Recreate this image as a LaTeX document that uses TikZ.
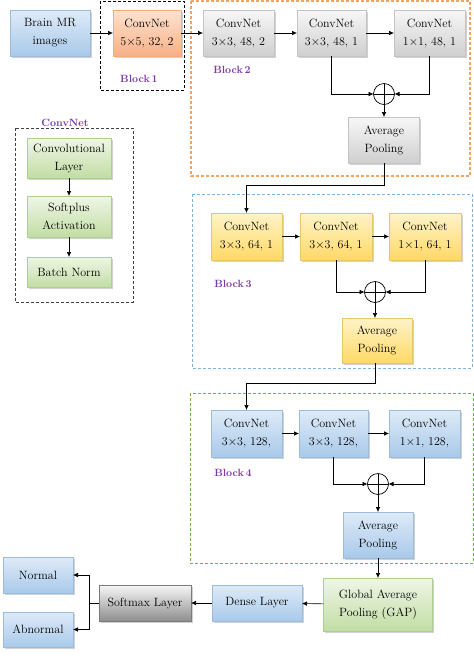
\documentclass[tikz,border=0pt]{standalone}
\usetikzlibrary{shadows,arrows.meta,calc}
\definecolor{bluetop}{HTML}{DEEBF8}
\definecolor{bluebot}{HTML}{A9C9EA}
\definecolor{blueedge}{HTML}{9DBBDB}
\definecolor{orgtop}{HTML}{FDE3D0}
\definecolor{orgbot}{HTML}{F7B088}
\definecolor{orgedge}{HTML}{F2AC80}
\definecolor{graytop}{HTML}{F7F7F7}
\definecolor{graybot}{HTML}{CFCFCF}
\definecolor{grayedge}{HTML}{C4C4C4}
\definecolor{dgraybot}{HTML}{8E8E8E}
\definecolor{dgrayedge}{HTML}{7A7A7A}
\definecolor{yeltop}{HTML}{FFF4C8}
\definecolor{yelbot}{HTML}{FFD966}
\definecolor{yeledge}{HTML}{E8C868}
\definecolor{grntop}{HTML}{EFF6E6}
\definecolor{grnbot}{HTML}{C2DDA4}
\definecolor{grnedge}{HTML}{ADD092}
\definecolor{purp}{HTML}{7B3AA6}
\definecolor{frameorg}{HTML}{F4A460}
\definecolor{frameblue}{HTML}{7FB5DC}
\definecolor{framegrn}{HTML}{6DB050}
\begin{document}
\begin{tikzpicture}[x=1pt,y=-1pt,
  font=\fontsize{12}{18}\selectfont,
  box/.style={draw, rectangle, align=center, inner sep=1pt, outer sep=0pt,
    drop shadow={shadow xshift=1.5pt, shadow yshift=-1.5pt, opacity=0.3, fill=black!60}},
  bluebox/.style={box, top color=bluetop, bottom color=bluebot, draw=blueedge},
  orgbox/.style={box, top color=orgtop, bottom color=orgbot, draw=orgedge},
  graybox/.style={box, top color=graytop, bottom color=graybot, draw=grayedge},
  dgraybox/.style={box, top color=graytop, bottom color=dgraybot, draw=dgrayedge},
  yelbox/.style={box, top color=yeltop, bottom color=yelbot, draw=yeledge},
  grnbox/.style={box, top color=grntop, bottom color=grnbot, draw=grnedge},
  sz/.style 2 args={minimum width=#1, minimum height=#2},
  plus/.style={draw, circle, minimum size=21pt, inner sep=0pt, outer sep=0pt, line width=0.7pt,
    path picture={\draw[line width=0.7pt] (path picture bounding box.north) -- (path picture bounding box.south)
      (path picture bounding box.west) -- (path picture bounding box.east);}},
  arr/.style={draw, line width=0.6pt, -{Latex[length=5pt,width=4.5pt]}},
  ln/.style={draw, line width=0.6pt},
  blabel/.style={font=\fontsize{10.5}{12}\selectfont\bfseries, text=purp},
  frame/.style={dashed, line width=1pt}
]
\useasboundingbox (0,0) rectangle (474,665);

% frames
\draw[frame, draw=black, dash pattern=on 3pt off 2pt] (100,1) rectangle (184,90);
\draw[frame, draw=frameorg, line width=1.4pt, dash pattern=on 3pt off 2pt] (191,1) rectangle (470,176);
\draw[frame, draw=frameblue, dash pattern=on 3pt off 2pt] (192,194) rectangle (472,368);
\draw[frame, draw=framegrn, dash pattern=on 3pt off 2pt] (190,393) rectangle (473,563);
\draw[frame, draw=black!75, dash pattern=on 3pt off 2pt] (15,128) rectangle (133,302);

% input and block 1
\node[bluebox, sz={80pt}{46pt}] (brain) at (50,33) {Brain MR\\images};
\node[orgbox, sz={68pt}{46pt}] (b1) at (147,33) {ConvNet\\5$\times$5, 32, 2};
\node[blabel] (l1) at (139,79) {Block\,1};

% block 2
\node[graybox, sz={71pt}{46pt}] (b2a) at (238.5,33) {ConvNet\\3$\times$3, 48, 2};
\node[graybox, sz={69pt}{46pt}] (b2b) at (331.5,33) {ConvNet\\3$\times$3, 48, 1};
\node[graybox, sz={71pt}{46pt}] (b2c) at (429.5,33) {ConvNet\\1$\times$1, 48, 1};
\node[plus] (o2) at (384,94) {};
\node[graybox, sz={71pt}{46pt}] (p2) at (384,140) {Average\\Pooling};
\node[blabel] (l2) at (232,70) {Block\,2};

% block 3
\node[yelbox, sz={71pt}{47pt}] (b3a) at (246.5,236.5) {ConvNet\\3$\times$3, 64, 1};
\node[yelbox, sz={72pt}{47pt}] (b3b) at (336,236.5) {ConvNet\\3$\times$3, 64, 1};
\node[yelbox, sz={72pt}{47pt}] (b3c) at (425,236.5) {ConvNet\\1$\times$1, 64, 1};
\node[plus] (o3) at (375,292) {};
\node[yelbox, sz={70pt}{45pt}] (p3) at (377,340.5) {Average\\Pooling};
\node[blabel] (l3) at (233,284) {Block\,3};

% block 4
\node[bluebox, sz={71pt}{47pt}] (b4a) at (246.5,433.5) {ConvNet\\3$\times$3, 128,};
\node[bluebox, sz={69pt}{47pt}] (b4b) at (333.5,433.5) {ConvNet\\3$\times$3, 128,};
\node[bluebox, sz={71pt}{47pt}] (b4c) at (424.5,433.5) {ConvNet\\1$\times$1, 128,};
\node[plus] (o4) at (378,484) {};
\node[bluebox, sz={70pt}{46pt}] (p4) at (378,535) {Average\\Pooling};
\node[blabel] (l4) at (233,473) {Block\,4};

% bottom row
\node[grnbox, sz={109pt}{53pt}] (gap) at (378,604.5) {Global Average\\Pooling (GAP)};
\node[bluebox, sz={90pt}{36pt}] (dense) at (257,603) {Dense Layer};
\node[dgraybox, sz={92pt}{36pt}] (soft) at (145,603) {Softmax Layer};
\node[bluebox, sz={70pt}{36pt}] (norm) at (38,575) {Normal};
\node[bluebox, sz={70pt}{35pt}] (abn) at (38,629.5) {Abnormal};
\coordinate (split) at (89,603);

% legend
\node[grnbox, sz={84pt}{40pt}] (c1) at (69,158) {Convolutional\\Layer};
\node[grnbox, sz={84pt}{41pt}] (c2) at (69,216.5) {Softplus\\Activation};
\node[grnbox, sz={84pt}{30pt}] (c3) at (69,272) {Batch Norm};
\node[blabel, fill=white, inner sep=1pt] (lc) at (65,123) {ConvNet};

% connectors
\path[arr] (brain) -- (b1);
\path[arr] (b1) -- (b2a);
\path[arr] (b2a) -- (b2b);
\path[arr] (b2b) -- (b2c);
\path[arr] (b2b.south) |- (o2.west);
\path[arr] (b2c.south) |- (o2.east);
\path[arr] (o2) -- (p2);
\path[arr] (p2.south) -- ++(0,22) -| (b3a.north);

\path[arr] (b3a) -- (b3b);
\path[arr] (b3b) -- (b3c);
\path[arr] (b3b.south) |- (o3.west);
\path[arr] (b3c.south) |- (o3.east);
\path[arr] (o3) -- (o3 |- p3.north);
\path[arr] (p3.south -| o3) -- ++(0,20) -| (b4a.north);

\path[arr] (b4a) -- (b4b);
\path[arr] (b4b) -- (b4c);
\path[arr] (b4b.south) |- (o4.west);
\path[arr] (b4c.south) |- (o4.east);
\path[arr] (o4) -- (p4);
\path[arr] (p4) -- (gap);

\path[arr] (gap) -- (dense);
\path[arr] (dense) -- (soft);
\path[ln] (soft.west) -- (split);
\path[arr] (split) |- (norm.east);
\path[arr] (split) |- (abn.east);

\path[arr] (c1) -- (c2);
\path[arr] (c2) -- (c3);
\end{tikzpicture}
\end{document}
